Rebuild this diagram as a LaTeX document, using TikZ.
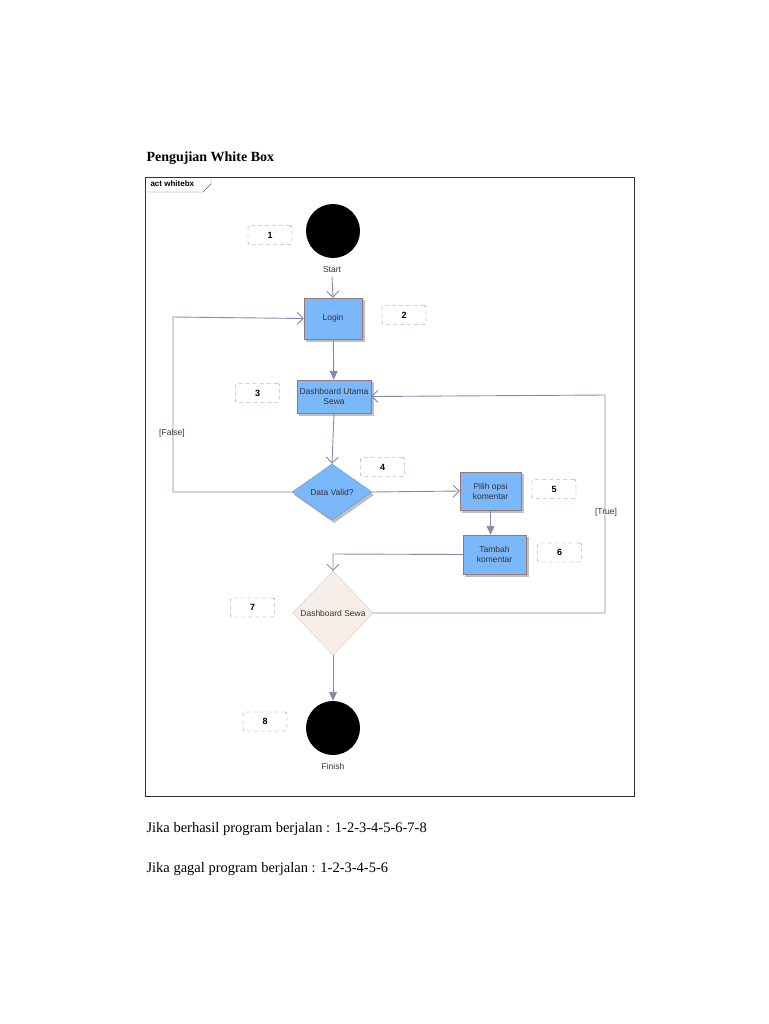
\documentclass[tikz,border=0pt]{standalone}
\usepackage{fontspec}
\setmainfont{Liberation Serif}
\newfontfamily\dsans{Liberation Sans}
\usetikzlibrary{shapes.geometric,arrows.meta}
\definecolor{fillblue}{RGB}{122,184,250}
\definecolor{edgeline}{RGB}{130,140,170}
\definecolor{boxedge}{RGB}{150,120,120}
\definecolor{cream}{RGB}{248,238,232}
\begin{document}
\begin{tikzpicture}[x=1pt,y=-1pt,
  txt/.style={font=\dsans\fontsize{8.5}{10}\selectfont, text=black!80},
  num/.style={draw=boxedge, dash pattern=on 4pt off 3pt, rounded corners=2pt, minimum width=44pt, minimum height=19pt, font=\dsans\bfseries\fontsize{9}{10}\selectfont},
  conn/.style={draw=edgeline, line width=0.9pt},
  openarr/.style={conn, -{Straight Barb[length=6pt,width=12pt]}},
  fillarr/.style={conn, -{Triangle[length=9pt,width=8pt,fill=edgeline]}},
  dot/.style={circle, fill=black, minimum size=54pt, inner sep=0pt}]
\useasboundingbox (0,0) rectangle (768,1024);
\fill[white] (0,0) rectangle (768,1024);
\node[anchor=west, font=\bfseries\fontsize{14}{16}\selectfont] (title) at (143,158) {Pengujian White Box};
\draw[black!80, line width=0.8pt] (145,177) rectangle (634,796);
\draw[black!60] (145,192) -- (203,192) -- (211,184) -- (211,177);
\node[anchor=west, font=\dsans\bfseries\fontsize{8}{9}\selectfont] (frm) at (147,184) {act whitebx};
% nodes
\node[dot] (start) at (333,231) {};
\node[txt] (startl) at (332,270) {Start};
\fill[black!25] (306,300) rectangle (365,342);
\node[draw=boxedge, fill=fillblue, minimum width=58pt, minimum height=41pt, txt] (login) at (333,318.5) {Login};
\fill[black!25] (299,382) rectangle (374,416);
\node[draw=boxedge, fill=fillblue, minimum width=74pt, minimum height=33pt, txt, align=center, inner sep=1pt] (dash) at (334,396.5) {Dashboard Utama\\Sewa};
\fill[black!25] (294,495) -- (334,467) -- (374,495) -- (334,523) -- cycle;
\node[diamond, draw=fillblue!80!black, fill=fillblue, minimum width=80pt, minimum height=56pt, inner sep=0pt, txt] (valid) at (332,492) {Data Valid?};
\fill[black!25] (462,474) rectangle (524,513);
\node[draw=boxedge, fill=fillblue, minimum width=61pt, minimum height=38pt, txt, align=center, inner sep=1pt] (pilih) at (490.5,491) {Pilih opsi\\komentar};
\fill[black!25] (465,537) rectangle (529,577);
\node[draw=boxedge, fill=fillblue, minimum width=63pt, minimum height=39pt, txt, align=center, inner sep=1pt] (tambah) at (494.5,554.5) {Tambah\\komentar};
\node[diamond, draw=black!20, fill=cream, minimum width=80pt, minimum height=84pt, inner sep=0pt, txt] (sewa) at (333,613) {Dashboard Sewa};
\node[dot] (finish) at (333,728) {};
\node[txt] (finishl) at (333,766) {Finish};
% numbers
\node[num] (n1) at (270,235) {1};
\node[num] (n2) at (404,315) {2};
\node[num] (n3) at (257.5,393) {3};
\node[num] (n4) at (382.5,467) {4};
\node[num] (n5) at (554,489) {5};
\node[num] (n6) at (559.5,552.5) {6};
\node[num] (n7) at (252.5,607.5) {7};
\node[num] (n8) at (265,721.5) {8};
% connectors
\coordinate (fa) at (173,492);
\coordinate (fb) at (173,317);
\coordinate (ta) at (605,613);
\coordinate (tb) at (605,395);
\coordinate (tc) at (333,554);
\draw[openarr] (startl.south) -- (login.north);
\draw[fillarr] (login) -- (dash);
\draw[openarr] (dash.south) -- (valid.north);
\draw[openarr] (valid.west) -- (fa) -- (fb) -- (login.west);
\draw[openarr] (valid.east) -- (pilih.west);
\draw[fillarr] (pilih.south) -- (pilih.south|-tambah.north);
\draw[openarr] (tambah.west) -- (tc) -- (sewa.north);
\draw[openarr] (sewa.east) -- (ta) -- (tb) -- (dash.east);
\draw[fillarr] (sewa.south) -- (finish.north);
\node[txt] (fl) at (172,433) {[False]};
\node[txt] (tl) at (606,512) {[True]};
\node[anchor=west, font=\fontsize{14.5}{16}\selectfont] (r1) at (143,829) {Jika berhasil program berjalan : 1-2-3-4-5-6-7-8};
\node[anchor=west, font=\fontsize{14.5}{16}\selectfont] (r2) at (143,869) {Jika gagal program berjalan : 1-2-3-4-5-6};
\end{tikzpicture}
\end{document}
